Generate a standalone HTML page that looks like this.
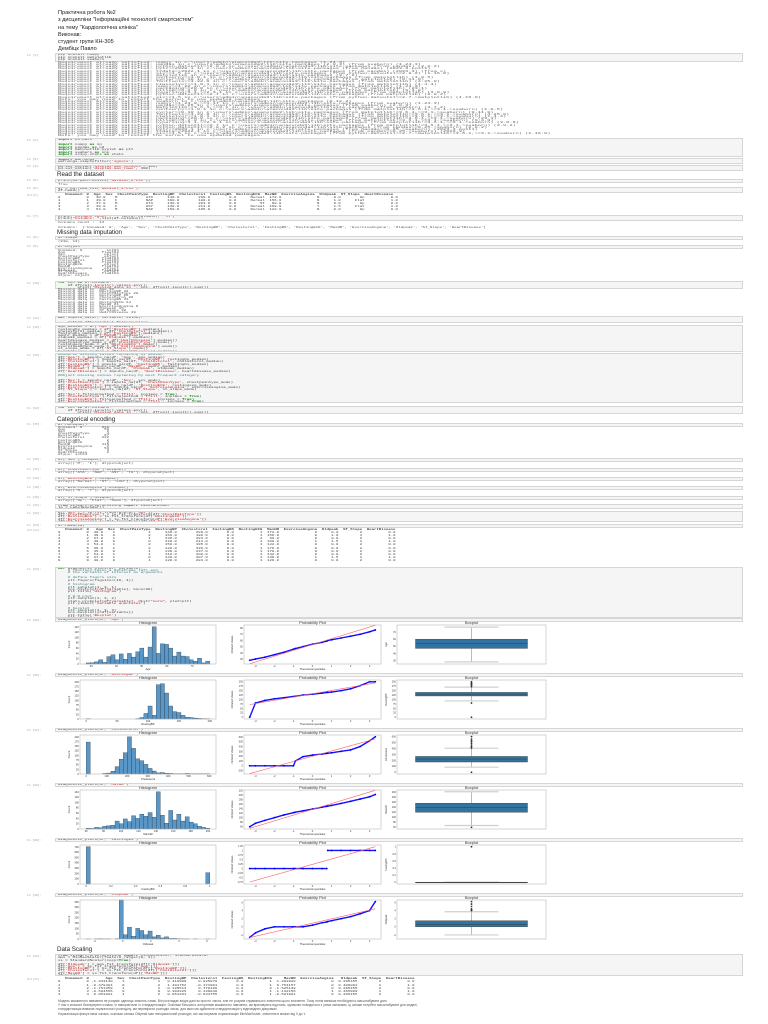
<!DOCTYPE html>
<html><head><meta charset="utf-8">
<style>
html,body{margin:0;padding:0;background:#fff;width:768px;height:1024px;overflow:hidden;position:relative;font-family:"Liberation Sans","DejaVu Sans",sans-serif}
.cell{position:absolute;left:55px;width:688px;background:#f5f5f5;border:0.5px solid #d6d6d6;box-sizing:border-box;overflow:hidden}
.lbl{position:absolute;left:27px;font:3px "Liberation Mono",monospace;color:#9a9a9a;white-space:pre}
.olbl{position:absolute;left:27px;font:3px "Liberation Mono",monospace;color:#c9a0a0;white-space:pre}
.code{position:absolute;left:2px;top:0.3px;font:3px/2.5px "Liberation Mono",monospace;color:#444;white-space:pre;transform:scaleX(1.35);transform-origin:0 0}
.out{position:absolute;left:58px;font:3px/2.1px "Liberation Mono",monospace;color:#555;white-space:pre;transform:scaleX(1.35);transform-origin:0 0}
.pip{position:absolute;left:58px;top:62px;font:2.4px/2.15px "Liberation Mono",monospace;color:#666;white-space:pre;transform:scaleX(2.2);transform-origin:0 0}
.h{position:absolute;left:57px;font-size:6.2px;color:#222;white-space:pre}
.t{position:absolute;left:58px;font-size:5.6px;color:#222;white-space:pre}
.tbl{position:absolute;left:58px;font:3px/3.4px "Liberation Mono",monospace;color:#444;white-space:pre;transform:scaleX(1.32);transform-origin:0 0}
.para{position:absolute;left:58px;font-size:3.3px;color:#555;white-space:pre}
.k{color:#008000;font-weight:bold}.s{color:#ba2121}.c{color:#408080}
</style></head><body>
<div class="t" style="top:10px">Практична робота №2</div>
<div class="t" style="top:17px">з дисципліни "Інформаційні технології смартсистем"</div>
<div class="t" style="top:25px">на тему "Кардіологічна клініка"</div>
<div class="t" style="top:32px">Виконав:</div>
<div class="t" style="top:39px">студент групи КН-305</div>
<div class="t" style="top:46px">Дембіцк Павло</div>

<div class="lbl" style="top:54px">In [1]:</div>
<div class="cell" style="top:53px;height:9px"><div class="code">pip install numpy
pip install matplotlib
pip install seaborn</div></div>
<div class="pip">Requirement already satisfied: numpy in c:\users\admin\anaconda3\lib\site-packages (1.24.3)
Requirement already satisfied: pandas in c:\users\admin\anaconda3\lib\site-packages (2.0.3) (from seaborn) (1.24.3)
Requirement already satisfied: python-dateutil>=2.8.2 in c:\users\admin\anaconda3\lib\site-packages (from pandas) (2.8.2)
Requirement already satisfied: pytz>=2020.1 in c:\users\admin\anaconda3\lib\site-packages (from pandas) (2023.3.post1)
Requirement already satisfied: tzdata>=2022.1 in c:\users\admin\anaconda3\lib\site-packages (from pandas) (2023.3) (from x)
Requirement already satisfied: six>=1.5 in c:\users\admin\anaconda3\lib\site-packages (from python-dateutil>=2.8.2) (1.16.0)
Requirement already satisfied: matplotlib in c:\users\admin\anaconda3\lib\site-packages (3.7.2)
Requirement already satisfied: contourpy>=1.0.1 in c:\users\admin\anaconda3\lib\site-packages (from matplotlib) (1.0.5)
Requirement already satisfied: cycler>=0.10 in c:\users\admin\anaconda3\lib\site-packages (from matplotlib) (0.11.0)
Requirement already satisfied: fonttools>=4.22.0 in c:\users\admin\anaconda3\lib\site-packages (from matplotlib) (4.25.0)
Requirement already satisfied: kiwisolver>=1.0.1 in c:\users\admin\anaconda3\lib\site-packages (from matplotlib) (1.4.4)
Requirement already satisfied: numpy>=1.20 in c:\users\admin\anaconda3\lib\site-packages (from matplotlib) (1.24.3)
Requirement already satisfied: packaging>=20.0 in c:\users\admin\anaconda3\lib\site-packages (from matplotlib) (23.1)
Requirement already satisfied: pillow>=6.2.0 in c:\users\admin\anaconda3\lib\site-packages (from matplotlib) (9.4.0)
Requirement already satisfied: pyparsing<3.1,>=2.3.1 in c:\users\admin\anaconda3\lib\site-packages (from matplotlib) (3.0.9)
Requirement already satisfied: python-dateutil>=2.7 in c:\users\admin\anaconda3\lib\site-packages (from matplotlib) (2.8.2)
Requirement already satisfied: six>=1.5 in c:\users\admin\anaconda3\lib\site-packages (from python-dateutil>=2.7->matplotlib) (1.16.0)
Note: you may need to restart the kernel to use updated packages.
Requirement already satisfied: seaborn in c:\users\admin\anaconda3\lib\site-packages (0.12.2)
Requirement already satisfied: numpy!=1.24.0,>=1.17 in c:\users\admin\anaconda3\lib\site-packages (from seaborn) (1.24.3)
Requirement already satisfied: pandas>=0.25 in c:\users\admin\anaconda3\lib\site-packages (from seaborn) (2.0.3)
Requirement already satisfied: matplotlib!=3.6.1,>=3.1 in c:\users\admin\anaconda3\lib\site-packages (from seaborn) (3.7.2)
Requirement already satisfied: contourpy>=1.0.1 in c:\users\admin\anaconda3\lib\site-packages (from matplotlib!=3.6.1,>=3.1->seaborn) (1.0.5)
Requirement already satisfied: cycler>=0.10 in c:\users\admin\anaconda3\lib\site-packages (from matplotlib!=3.6.1,>=3.1->seaborn) (0.11.0)
Requirement already satisfied: fonttools>=4.22.0 in c:\users\admin\anaconda3\lib\site-packages (from matplotlib!=3.6.1,>=3.1->seaborn) (4.25.0)
Requirement already satisfied: kiwisolver>=1.0.1 in c:\users\admin\anaconda3\lib\site-packages (from matplotlib!=3.6.1,>=3.1->seaborn) (1.4.4)
Requirement already satisfied: packaging>=20.0 in c:\users\admin\anaconda3\lib\site-packages (from matplotlib!=3.6.1,>=3.1->seaborn) (23.1)
Requirement already satisfied: pillow>=6.2.0 in c:\users\admin\anaconda3\lib\site-packages (from matplotlib!=3.6.1,>=3.1->seaborn) (9.4.0)
Requirement already satisfied: pyparsing<3.1,>=2.3.1 in c:\users\admin\anaconda3\lib\site-packages (from matplotlib!=3.6.1,>=3.1->seaborn) (3.0.9)
Requirement already satisfied: python-dateutil>=2.7 in c:\users\admin\anaconda3\lib\site-packages (from matplotlib!=3.6.1,>=3.1->seaborn) (2.8.2)
Requirement already satisfied: python-dateutil>=2.8.2 in c:\users\admin\anaconda3\lib\site-packages (from pandas>=0.25->seaborn) (2.8.2)
Requirement already satisfied: pytz>=2020.1 in c:\users\admin\anaconda3\lib\site-packages (from pandas>=0.25->seaborn) (2023.3.post1)
Requirement already satisfied: tzdata>=2022.1 in c:\users\admin\anaconda3\lib\site-packages (from pandas>=0.25->seaborn) (2023.3)
Requirement already satisfied: six>=1.5 in c:\users\admin\anaconda3\lib\site-packages (from python-dateutil>=2.7->matplotlib!=3.6.1,>=3.1->seaborn) (1.16.0)
Note: you may need to restart the kernel to use updated packages.</div>

<div class="lbl" style="top:139px">In [2]:</div>
<div class="cell" style="top:138px;height:19px"><div class="code"><span class="k">import</span> os.path

<span class="k">import</span> numpy <span class="k">as</span> np
<span class="k">import</span> pandas <span class="k">as</span> pd
<span class="k">import</span> matplotlib.pyplot <span class="k">as</span> plt
<span class="k">import</span> seaborn <span class="k">as</span> sns
<span class="k">import</span> scipy.stats <span class="k">as</span> stats</div></div>
<div class="lbl" style="top:158px">In [3]:</div>
<div class="cell" style="top:157.5px;height:6px"><div class="code"><span class="k">import</span> warnings
warnings.simplefilter(<span class="s">'ignore'</span>)</div></div>
<div class="lbl" style="top:165px">In [4]:</div>
<div class="cell" style="top:164.5px;height:6px"><div class="code">pd.set_option(<span class="s">'display.max_columns'</span>, 300)
pd.set_option(<span class="s">'display.max_rows'</span>, 300)</div></div>

<div class="h" style="top:171px">Read the dataset</div>
<div class="lbl" style="top:179px">In [5]:</div>
<div class="cell" style="top:178.5px;height:4px"><div class="code">print(os.path.exists(<span class="s">'dataset_2.csv'</span>))</div></div>
<div class="out" style="top:183.5px">True</div>
<div class="lbl" style="top:187px">In [6]:</div>
<div class="cell" style="top:186.5px;height:6px"><div class="code">df = pd.read_csv(<span class="s">"dataset_2.csv"</span>)
df.head()</div></div>
<div class="olbl" style="top:194px">Out[6]:</div>
<div class="tbl" style="top:193px;line-height:3.1px"><b>   Unnamed: 0  Age  Sex  ChestPainType  RestingBP  Cholesterol  FastingBS  RestingECG  MaxHR  ExerciseAngina  Oldpeak  ST_Slope  HeartDisease</b>
0           0   40.0    M            ATA      140.0        289.0        0.0      Normal  172.0               N      0.0        Up           0.0
1           1   49.0    F            NAP      160.0        180.0        0.0      Normal  156.0               N      1.0      Flat           1.0
2           2   37.0    M            ATA      130.0        283.0        0.0          ST   98.0               N      0.0        Up           0.0
3           3   48.0    F            ASY      138.0        214.0        0.0      Normal  108.0               Y      1.5      Flat           1.0
4           4   54.0    M            NAP      150.0        195.0        0.0      Normal  122.0               N      0.0        Up           0.0</div>
<div class="lbl" style="top:215px">In [7]:</div>
<div class="cell" style="top:214.5px;height:6px"><div class="code">print(<span class="s">"Columns count : "</span>, len(df.columns), <span class="s">"\n"</span>)
print(<span class="s">"Columns: "</span>,list(df.columns))</div></div>
<div class="out" style="top:221.5px;line-height:2.6px">Columns count :  13

Columns:  ['Unnamed: 0', 'Age', 'Sex', 'ChestPainType', 'RestingBP', 'Cholesterol', 'FastingBS', 'RestingECG', 'MaxHR', 'ExerciseAngina', 'Oldpeak', 'ST_Slope', 'HeartDisease']</div>

<div class="h" style="top:229px">Missing data imputation</div>
<div class="lbl" style="top:236px">In [8]:</div>
<div class="cell" style="top:235.5px;height:4px"><div class="code">df.shape</div></div>
<div class="out" style="top:241px">(918, 13)</div>
<div class="lbl" style="top:245px">In [9]:</div>
<div class="cell" style="top:244.5px;height:4px"><div class="code">df.dtypes</div></div>
<div class="out" style="top:250px;line-height:1.95px">Unnamed: 0          int64
Age               float64
Sex                object
ChestPainType      object
RestingBP         float64
Cholesterol       float64
FastingBS         float64
RestingECG         object
MaxHR             float64
ExerciseAngina     object
Oldpeak           float64
ST_Slope           object
HeartDisease      float64
dtype: object</div>
<div class="lbl" style="top:282px">In [10]:</div>
<div class="cell" style="top:281px;height:7.5px"><div class="code"><span class="k">for</span> col <span class="k">in</span> df.columns:
    <span class="k">if</span> df[col].isnull().values.any():
        print(<span class="s">'Missing data in '</span>, col, df[col].isnull().sum())</div></div>
<div class="out" style="top:289px">Missing data in  Age 30
Missing data in  RestingBP 26
Missing data in  ChestPainType 28
Missing data in  RestingBP 26
Missing data in  Cholesterol 20
Missing data in  FastingBS 31
Missing data in  RestingECG 24
Missing data in  MaxHR 21
Missing data in  ExerciseAngina 9
Missing data in  Oldpeak 15
Missing data in  ST_Slope 30
Missing data in  HeartDisease 19</div>
<div class="lbl" style="top:317px">In [11]:</div>
<div class="cell" style="top:316px;height:7px"><div class="code"><span class="k">def</span> impute_na(df, variable, value):

    <span class="k">return</span> df[variable].fillna(value)</div></div>
<div class="lbl" style="top:326px">In [12]:</div>
<div class="cell" style="top:325px;height:27px"><div class="code" style="line-height:2.2px">age_median = df[<span class="s">'Age'</span>].median()
restingbp_median = df[<span class="s">'RestingBP'</span>].median()
cholesterol_median = df[<span class="s">'Cholesterol'</span>].median()
fastingbs_median = df[<span class="s">'FastingBS'</span>].median()
maxhr_median = df[<span class="s">'MaxHR'</span>].median()
oldpeak_median = df[<span class="s">'Oldpeak'</span>].median()
heartdisease_median = df[<span class="s">'HeartDisease'</span>].median()
chestpaintype_mode = df[<span class="s">'ChestPainType'</span>].mode()
restingecg_mode = df[<span class="s">'RestingECG'</span>].mode()
exerciseangina_mode = df[<span class="s">'ExerciseAngina'</span>].mode()
st_slope_mode = df[<span class="s">'ST_Slope'</span>].mode()
heartdisease_median = df[<span class="s">'HeartDisease'</span>].median()</div></div>
<div class="lbl" style="top:354px">In [13]:</div>
<div class="cell" style="top:353px;height:50px"><div class="code" style="line-height:2.35px"><span class="c">#Numeric missing values replacing by median</span>
df[<span class="s">'Age'</span>] = impute_na(df, <span class="s">'Age'</span>, age_median)
df[<span class="s">'RestingBP'</span>] = impute_na(df, <span class="s">'RestingBP'</span>, restingbp_median)
df[<span class="s">'Cholesterol'</span>] = impute_na(df, <span class="s">'Cholesterol'</span>, cholesterol_median)
df[<span class="s">'FastingBS'</span>] = impute_na(df, <span class="s">'FastingBS'</span>, fastingbs_median)
df[<span class="s">'MaxHR'</span>] = impute_na(df, <span class="s">'MaxHR'</span>, maxhr_median)
df[<span class="s">'Oldpeak'</span>] = impute_na(df, <span class="s">'Oldpeak'</span>, oldpeak_median)
df[<span class="s">'HeartDisease'</span>] = impute_na(df, <span class="s">'HeartDisease'</span>, heartdisease_median)

<span class="c">#Object missing values replacing by most frequent category</span>

df[<span class="s">'Sex'</span>] = impute_na(df, <span class="s">'Sex'</span>, sex_mode)
df[<span class="s">'ChestPainType'</span>] = impute_na(df, <span class="s">'ChestPainType'</span>, chestpaintype_mode)
df[<span class="s">'RestingECG'</span>] = impute_na(df, <span class="s">'RestingECG'</span>, restingecg_mode)
df[<span class="s">'ExerciseAngina'</span>] = impute_na(df, <span class="s">'ExerciseAngina'</span>, exerciseangina_mode)
df[<span class="s">'ST_Slope'</span>] = impute_na(df, <span class="s">'ST_Slope'</span>, st_slope_mode)

df[<span class="s">'Sex'</span>].fillna(method =<span class="s">'ffill'</span>, inplace = <span class="k">True</span>)
df[<span class="s">'ChestPainType'</span>].fillna(method =<span class="s">'ffill'</span>, inplace = <span class="k">True</span>)
df[<span class="s">'RestingECG'</span>].fillna(method =<span class="s">'ffill'</span>, inplace = <span class="k">True</span>)
df[<span class="s">'ExerciseAngina'</span>].fillna(method =<span class="s">'ffill'</span>, inplace = <span class="k">True</span>)
df[<span class="s">'ST_Slope'</span>].fillna(method =<span class="s">'ffill'</span>, inplace = <span class="k">True</span>)</div></div>
<div class="lbl" style="top:407px">In [14]:</div>
<div class="cell" style="top:406px;height:8px"><div class="code"><span class="k">for</span> col <span class="k">in</span> df.columns:
    <span class="k">if</span> df[col].isnull().values.any():
        print(<span class="s">'Missing data in '</span>, col, df[col].isnull().sum())</div></div>

<div class="h" style="top:416px">Categorical encoding</div>
<div class="lbl" style="top:423px">In [15]:</div>
<div class="cell" style="top:422.5px;height:4px"><div class="code">df.nunique()</div></div>
<div class="out" style="top:427px">Unnamed: 0        918
Age                50
Sex                 2
ChestPainType       4
RestingBP          67
Cholesterol       222
FastingBS           2
RestingECG          3
MaxHR             119
ExerciseAngina      2
Oldpeak            53
ST_Slope            3
HeartDisease        2
dtype: int64</div>
<div class="lbl" style="top:458px">In [16]:</div>
<div class="cell" style="top:457.5px;height:4px"><div class="code">df[<span class="s">'Sex'</span>].unique()</div></div>
<div class="out" style="top:463px">array(['M', 'F'], dtype=object)</div>
<div class="lbl" style="top:468px">In [17]:</div>
<div class="cell" style="top:467.5px;height:4px"><div class="code">df[<span class="s">'ChestPainType'</span>].unique()</div></div>
<div class="out" style="top:472px">array(['ATA', 'NAP', 'ASY', 'TA'], dtype=object)</div>
<div class="lbl" style="top:477px">In [18]:</div>
<div class="cell" style="top:476.5px;height:4px"><div class="code">df[<span class="s">'RestingECG'</span>].unique()</div></div>
<div class="out" style="top:481px">array(['Normal', 'ST', 'LVH'], dtype=object)</div>
<div class="lbl" style="top:486px">In [19]:</div>
<div class="cell" style="top:485.5px;height:4px"><div class="code">df[<span class="s">'ExerciseAngina'</span>].unique()</div></div>
<div class="out" style="top:490px">array(['N', 'Y'], dtype=object)</div>
<div class="lbl" style="top:496px">In [20]:</div>
<div class="cell" style="top:495.5px;height:4px"><div class="code">df[<span class="s">'ST_Slope'</span>].unique()</div></div>
<div class="out" style="top:500px">array(['Up', 'Flat', 'Down'], dtype=object)</div>
<div class="lbl" style="top:504px">In [21]:</div>
<div class="cell" style="top:503.5px;height:5px"><div class="code" style="line-height:2.2px"><span class="k">from</span> sklearn.preprocessing <span class="k">import</span> LabelEncoder
le = LabelEncoder()</div></div>
<div class="lbl" style="top:512px">In [22]:</div>
<div class="cell" style="top:511px;height:11px"><div class="code" style="line-height:2.1px">df[<span class="s">'Sex'</span>] = le.fit_transform(df[<span class="s">'Sex'</span>])
df[<span class="s">'ChestPainType'</span>] = le.fit_transform(df[<span class="s">'ChestPainType'</span>])
df[<span class="s">'RestingECG'</span>] = le.fit_transform(df[<span class="s">'RestingECG'</span>])
df[<span class="s">'ExerciseAngina'</span>] = le.fit_transform(df[<span class="s">'ExerciseAngina'</span>])
df[<span class="s">'ST_Slope'</span>] = le.fit_transform(df[<span class="s">'ST_Slope'</span>])</div></div>
<div class="lbl" style="top:524px">In [23]:</div>
<div class="cell" style="top:523.5px;height:4px"><div class="code">df.head(10)</div></div>
<div class="olbl" style="top:529px">Out[23]:</div>
<div class="tbl" style="top:528px;line-height:3.1px"><b>   Unnamed: 0   Age  Sex  ChestPainType  RestingBP  Cholesterol  FastingBS  RestingECG  MaxHR  ExerciseAngina  Oldpeak  ST_Slope  HeartDisease</b>
0           0  40.0    1              1      140.0        289.0        0.0           1  172.0               0      0.0         2           0.0
1           1  49.0    0              2      160.0        180.0        0.0           1  156.0               0      1.0         1           1.0
2           2  37.0    1              1      130.0        283.0        0.0           2   98.0               0      0.0         2           0.0
3           3  48.0    0              0      138.0        214.0        0.0           1  108.0               1      1.5         1           1.0
4           4  54.0    1              2      150.0        195.0        0.0           1  122.0               0      0.0         2           0.0
5           5  39.0    1              2      120.0        339.0        0.0           1  170.0               0      0.0         2           0.0
6           6  45.0    0              1      130.0        237.0        0.0           1  170.0               0      0.0         2           0.0
7           7  54.0    1              1      110.0        208.0        0.0           1  142.0               0      0.0         2           0.0
8           8  37.0    1              0      140.0        207.0        0.0           1  130.0               1      1.5         1           1.0
9           9  48.0    0              1      120.0        284.0        0.0           1  120.0               0      0.0         2           0.0</div>
<div class="lbl" style="top:568px">In [24]:</div>
<div class="cell" style="top:566.5px;height:51px"><div class="code" style="line-height:2.35px"><span class="k">def</span> diagnostic_plots(df, variable):
    <span class="c"># function takes a dataframe (df) and</span>
    <span class="c"># the variable of interest as arguments</span>

    <span class="c"># define figure size</span>
    plt.figure(figsize=(16, 4))

    <span class="c"># histogram</span>
    plt.subplot(1, 3, 1)
    sns.histplot(df[variable], bins=30)
    plt.title(<span class="s">'Histogram'</span>)

    <span class="c"># Q-Q plot</span>
    plt.subplot(1, 3, 2)
    stats.probplot(df[variable], dist=<span class="s">"norm"</span>, plot=plt)
    plt.ylabel(<span class="s">'Variable quantiles'</span>)

    <span class="c"># boxplot</span>
    plt.subplot(1, 3, 3)
    sns.boxplot(y=df[variable])
    plt.title(<span class="s">'Boxplot'</span>)
    plt.show()</div></div>

<div class="lbl" style="top:619px">In [25]:</div>
<div class="cell" style="top:618px;height:4px"><div class="code">diagnostic_plots(df, <span class="s">'Age'</span>)</div></div>
<div class="lbl" style="top:674px">In [26]:</div>
<div class="cell" style="top:673px;height:4px"><div class="code">diagnostic_plots(df, <span class="s">'RestingBP'</span>)</div></div>
<div class="lbl" style="top:729px">In [27]:</div>
<div class="cell" style="top:728px;height:4px"><div class="code">diagnostic_plots(df, <span class="s">'Cholesterol'</span>)</div></div>
<div class="lbl" style="top:784px">In [28]:</div>
<div class="cell" style="top:783px;height:4px"><div class="code">diagnostic_plots(df, <span class="s">'MaxHR'</span>)</div></div>
<div class="lbl" style="top:839px">In [29]:</div>
<div class="cell" style="top:838px;height:4px"><div class="code">diagnostic_plots(df, <span class="s">'FastingBS'</span>)</div></div>
<div class="lbl" style="top:894px">In [30]:</div>
<div class="cell" style="top:893px;height:4px"><div class="code">diagnostic_plots(df, <span class="s">'Oldpeak'</span>)</div></div>

<div class="h" style="top:946px">Data Scaling</div>
<div class="lbl" style="top:955px">In [31]:</div>
<div class="cell" style="top:954px;height:22px"><div class="code" style="line-height:2.15px"><span class="k">from</span> sklearn.preprocessing <span class="k">import</span> MinMaxScaler, StandardScaler
mms = MinMaxScaler(feature_range=(0, 1))
ss = StandardScaler(copy=<span class="k">True</span>)

df[<span class="s">'Oldpeak'</span>] = mms.fit_transform(df[[<span class="s">'Oldpeak'</span>]])
df[<span class="s">'Age'</span>] = ss.fit_transform(df[[<span class="s">'Age'</span>]])
df[<span class="s">'RestingBP'</span>] = ss.fit_transform(df[[<span class="s">'RestingBP'</span>]])
df[<span class="s">'Cholesterol'</span>] = ss.fit_transform(df[[<span class="s">'Cholesterol'</span>]])
df[<span class="s">'MaxHR'</span>] = ss.fit_transform(df[[<span class="s">'MaxHR'</span>]])
df.head()</div></div>
<div class="olbl" style="top:978px">Out[31]:</div>
<div class="tbl" style="top:977px;line-height:3.3px"><b>   Unnamed: 0       Age  Sex  ChestPainType  RestingBP  Cholesterol  FastingBS  RestingECG     MaxHR  ExerciseAngina   Oldpeak  ST_Slope  HeartDisease</b>
0           0 -1.433140    1              1   0.410909     0.825070        0.0           1  1.382928               0  0.295455         2           0.0
1           1 -0.478484    0              2   1.491752    -0.171961        0.0           1  0.754157               0  0.409091         1           1.0
2           2 -1.751359    1              1  -0.129513     0.770188        0.0           2 -1.525138               0  0.295455         2           0.0
3           3 -0.584556    0              0   0.302825     0.139040        0.0           1 -1.132156               1  0.465909         1           1.0
4           4  0.051881    1              2   0.951331    -0.034755        0.0           1 -0.581981               0  0.295455         2           0.0</div>
<div class="para" style="top:999px">Модель машинного навчання не розуміє одиниць значень ознак. Він розглядає вхідні дані як просто числа, але не розуміє справжнього значення цього значення. Тому потім виникає необхідність масштабувати дані.</div>
<div class="para" style="top:1004px;line-height:3.6px">У нас є кількісні безперервні ознаки, їх використали їх стандартизацію. Оскільки більшість алгоритмів машинного навчання, які враховують відстань, однаково поводяться з усіма ознаками, ці ознаки потрібно масштабувати для моделі,
стандартизація вимагає нормального розподілу, ми перевірили розподіл ознак, для яких ми здійснили стандартизацію у відповідних діаграмах.</div>
<div class="para" style="top:1012px">Нормалізація фіксує межі ознаки, оскільки ознака Oldpeak має ненормальний розподіл, ми застосували нормалізацію MinMaxScaler, значення в межах від 0 до 1.</div>

<svg id="plots" width="768" height="1024" viewBox="0 0 768 1024" style="position:absolute;left:0;top:0;pointer-events:none" xmlns="http://www.w3.org/2000/svg"></svg>

<script>
const variables = ['Age','RestingBP','Cholesterol','MaxHR','FastingBS','Oldpeak'];
// histogram counts (30 bins each)
const histAge = [4,5,8,16,6,28,35,16,38,18,40,26,46,60,26,64,140,40,76,74,60,30,45,30,28,16,10,22,4,10];
const histRestingBP = [1,0,0,0,0,0,0,0,0,0,0,0,2,8,30,70,20,185,190,140,70,40,35,20,10,8,5,3,2,1];
const histCholesterol = [172,0,0,0,3,5,15,40,80,115,200,138,82,72,52,30,16,6,8,4,3,2,1,2,3,1,1,1,1,2];
const histMaxHR = [3,2,6,5,10,12,14,30,20,38,28,50,40,56,48,62,44,140,52,22,70,34,56,30,46,26,20,10,6,3];
const histFastingBS = [704,0,0,0,0,0,0,0,0,0,0,0,0,0,0,0,0,0,0,0,0,0,0,0,0,0,0,0,0,214];
const histOldpeak = [1,0,1,2,1,1,0,2,368,40,110,25,100,80,40,75,20,35,10,20,5,5,3,1,1,0,1,0,0,1];
const histRanges = [[28,77],[0,200],[0,603],[60,202],[0,1],[-2.6,6.2]];
const histYMax = [140,200,200,140,700,350];
const histYStep = [20,25,25,20,100,50];
const histXTicks = [[30,40,50,60,70],[0,50,100,150,200],[0,100,200,300,400,500,600],[60,80,100,120,140,160,180,200],[0,0.2,0.4,0.6,0.8,1.0],[-2,0,2,4,6]];
// probability plot: theoretical quantiles and ordered values
const theoQuantiles = [-3.3,-3,-2.5,-2,-1.5,-1,-0.9,-0.5,0,0.5,0.75,0.8,1,1.5,2,2.5,3,3.3];
const probAge = [28,30,33,37,41,46,47,50,54,57,59,60,61,64,67,70,74,77];
const probRestingBP = [0,80,95,104,110,117,118,125,130,136,140,140,142,150,160,178,200,200];
const probCholesterol = [0,0,0,0,0,0,100,190,223,245,258,262,270,300,330,400,520,603];
const probMaxHR = [60,75,88,100,112,122,124,130,138,146,150,151,154,163,172,182,192,202];
const probFastingBS = [0,0,0,0,0,0,0,0,0,0,0,1,1,1,1,1,1,1];
const probOldpeak = [-2.6,-1.5,-0.5,0,0,0,0,0,0.4,1.0,1.2,1.3,1.5,2.0,2.5,3.2,4.0,6.2];
const fitIntercept = [53.5,132.4,198.8,136.8,0.233,0.89];
const fitSlope = [9.4,18.5,109,25.4,0.295,1.07];
const probYRange = [[22,85],[-10,210],[-170,640],[50,222],[-0.85,1.3],[-3,6.6]];
const probYTicks = [[30,40,50,60,70,80],[0,25,50,75,100,125,150,175,200],[-100,0,100,200,300,400,500,600],[60,80,100,120,140,160,180,200,220],[-0.75,-0.5,-0.25,0,0.25,0.5,0.75,1,1.25],[-2,0,2,4,6]];
// boxplot stats: [lowWhisker, q1, median, q3, highWhisker]
const boxStats = [[28,47,54,60,77],[92,120,130,140,170],[85,173,223,267,407],[67,120,138,156,202],[0,0,0,0,0],[-2,0,0.6,1.5,3.7]];
const boxOutliers = [[],[0,80,172,180,185,190,192,200],[0,410,430,460,490,520,530,560,603],[60],[1],[4,4.2,4.4,5,5.6,6.2]];
const boxYRange = [[25,80],[-10,210],[-30,630],[53,209],[-0.05,1.05],[-3,6.6]];
const boxYTicks = [[30,40,50,60,70],[0,25,50,75,100,125,150,175,200],[0,100,200,300,400,500,600],[60,80,100,120,140,160,180,200],[0,0.2,0.4,0.6,0.8,1.0],[-2,0,2,4,6]];
const histSeries = [histAge,histRestingBP,histCholesterol,histMaxHR,histFastingBS,histOldpeak];
const probSeries = [probAge,probRestingBP,probCholesterol,probMaxHR,probFastingBS,probOldpeak];

const NS='http://www.w3.org/2000/svg';
const svg=document.getElementById('plots');
function mk(tag,attrs,parent){const e=document.createElementNS(NS,tag);for(const k in attrs)e.setAttribute(k,attrs[k]);(parent||svg).appendChild(e);return e;}
function lin(d0,d1,r0,r1){return v=>r0+(v-d0)/(d1-d0)*(r1-r0);}
function fmt(v){return Math.abs(v)<1e-9?'0':(Number.isInteger(v)?String(v):String(+v.toFixed(2)));}
function label(g,x,y,s,size,anchor,rot){
  const t=mk('text',{x:x,y:y,'font-size':size,'text-anchor':anchor,'font-family':'Liberation Sans, sans-serif',fill:'#333'},g);
  if(rot)t.setAttribute('transform','rotate(-90 '+x+' '+y+')');
  t.textContent=s;
  
  
  return t;
}
function frame(g,x,y,w,h){
  const r=mk('rect',{x:x,y:y,width:w,height:h,fill:'none',stroke:'#b8b8b8','stroke-width':0.6},g);
  
  
}
const H=39;
for(let k=0;k<variables.length;k++){
  const top=625+55*k, bot=top+H;
  const name=variables[k];
  const g=mk('g',{});
  
  

  // ---- Histogram ----
  const hx0=80,hw=136;
  const gh=mk('g',{},g);
  
  
  const [lo,hi]=histRanges[k]; const pad=(hi-lo)*0.05;
  const sx=lin(lo-pad,hi+pad,hx0,hx0+hw);
  const sy=lin(0,histYMax[k]*1.05,bot,top);
  const counts=histSeries[k]; const bw=(hi-lo)/counts.length;
  counts.forEach((c,i)=>{
    if(c<=0)return;
    const b=mk('rect',{x:sx(lo+i*bw),y:sy(c),width:sx(lo+(i+1)*bw)-sx(lo+i*bw),height:bot-sy(c),fill:'#5b97c6',stroke:'#1f2f3f','stroke-width':0.3},gh);
    
    
  });
  frame(gh,hx0,top,hw,H);
  for(let v=0;v<=histYMax[k];v+=histYStep[k]){label(gh,hx0-1.2,sy(v)+0.9,fmt(v),2.6,'end');}
  histXTicks[k].forEach(v=>label(gh,sx(v),bot+3.2,fmt(v),2.6,'middle'));
  label(gh,hx0+hw/2,top-0.8,'Histogram',4,'middle');
  label(gh,hx0+hw/2,bot+6,name,2.8,'middle');
  label(gh,hx0-10,top+H/2,'Count',2.8,'middle',true);

  // ---- Probability plot ----
  const px0=244,pw=137;
  const gp=mk('g',{},g);
  
  
  const qx=lin(-3.6,3.6,px0,px0+pw);
  const [ylo,yhi]=probYRange[k];
  const qy=lin(ylo,yhi,bot,top);
  const vals=probSeries[k];
  let d='';
  for(let i=0;i<vals.length;i++){
    const jump=i>0&&Math.abs(vals[i]-vals[i-1])>(yhi-ylo)*0.4;
    d+=(i===0||jump?'M':'L')+qx(theoQuantiles[i]).toFixed(2)+' '+qy(vals[i]).toFixed(2)+' ';
  }
  const pl=mk('path',{d:d,fill:'none',stroke:'#1010ff','stroke-width':1.4},gp);
  
  
  vals.forEach((v,i)=>{
    const c=mk('circle',{cx:qx(theoQuantiles[i]),cy:qy(v),r:0.9,fill:'#0000ff'},gp);
    
    
  });
  const q0=theoQuantiles[0],q1=theoQuantiles[theoQuantiles.length-1];
  const fl=mk('line',{x1:qx(q0),y1:qy(fitIntercept[k]+fitSlope[k]*q0),x2:qx(q1),y2:qy(fitIntercept[k]+fitSlope[k]*q1),stroke:'#ff6060','stroke-width':0.6},gp);
  
  
  frame(gp,px0,top,pw,H);
  probYTicks[k].forEach(v=>{if(v>=ylo&&v<=yhi)label(gp,px0-1.2,qy(v)+0.9,fmt(v),2.4,'end');});
  [-3,-2,-1,0,1,2,3].forEach(v=>label(gp,qx(v),bot+3.2,String(v),2.6,'middle'));
  label(gp,px0+pw/2,top-0.8,'Probability Plot',4,'middle');
  label(gp,px0+pw/2,bot+6,'Theoretical quantiles',2.8,'middle');
  label(gp,px0-11,top+H/2,'Ordered Values',2.6,'middle',true);

  // ---- Boxplot ----
  const bx0=397,bwid=149;
  const gb=mk('g',{},g);
  
  
  const [blo,bhi]=boxYRange[k];
  const by=lin(blo,bhi,bot,top);
  const s=boxStats[k]; const cx=bx0+bwid/2;
  const w1=mk('line',{x1:cx,y1:by(s[0]),x2:cx,y2:by(s[1]),stroke:'#aaa','stroke-width':0.8},gb);
  
  
  const w2=mk('line',{x1:cx,y1:by(s[3]),x2:cx,y2:by(s[4]),stroke:'#aaa','stroke-width':0.8},gb);
  
  
  [s[0],s[4]].forEach(v=>{
    const cap=mk('line',{x1:cx-27,y1:by(v),x2:cx+27,y2:by(v),stroke:'#cfcfcf','stroke-width':1.2},gb);
    
    
  });
  const bh=Math.max(by(s[1])-by(s[3]),0.6);
  const box=mk('rect',{x:cx-56,y:by(s[3]),width:112,height:bh,fill:'#3274a1',stroke:'#3a3a3a','stroke-width':0.4},gb);
  
  
  const med=mk('line',{x1:cx-56,y1:by(s[2]),x2:cx+56,y2:by(s[2]),stroke:'#3a3a3a','stroke-width':0.5},gb);
  
  
  boxOutliers[k].forEach(v=>{
    const o=mk('circle',{cx:cx,cy:by(v),r:0.9,fill:'#333'},gb);
    
    
  });
  frame(gb,bx0,top,bwid,H);
  boxYTicks[k].forEach(v=>label(gb,bx0-1.2,by(v)+0.9,fmt(v),2.4,'end'));
  label(gb,bx0+bwid/2,top-0.8,'Boxplot',4,'middle');
  label(gb,bx0-10,top+H/2,name,2.6,'middle',true);
}
</script>
</body></html>
